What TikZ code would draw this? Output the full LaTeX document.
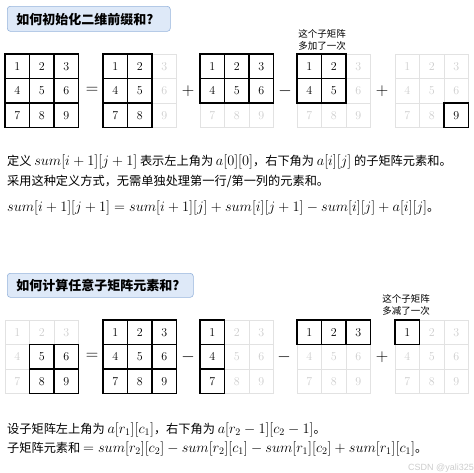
\documentclass[tikz,border=0pt]{standalone}
\usepackage{fontspec}
\usepackage{amsmath}
\newfontfamily\cjk{Noto Sans CJK SC}
\newfontfamily\wmfont{Liberation Sans}
\definecolor{tfill}{RGB}{222,233,248}
\definecolor{tdraw}{RGB}{150,180,220}
\definecolor{fline}{RGB}{226,226,226}
\definecolor{ftext}{RGB}{205,205,205}
\newcommand\mth[1]{{\fontsize{14.4}{17}\selectfont$#1$}}
\newcommand\mths[1]{{\fontsize{13.8}{16}\selectfont$#1$}}
\tikzset{
  fcell/.style={draw=fline, text=ftext, minimum width=24.5pt, minimum height=24.5pt, inner sep=0pt, font=\fontsize{12}{14}\selectfont, line width=0.6pt},
  bcell/.style={draw=black, fill=white, text=black, minimum width=24.5pt, minimum height=24.5pt, inner sep=0pt, font=\fontsize{12}{14}\selectfont, line width=1.3pt},
  op/.style={font=\fontsize{17}{20}\selectfont, inner sep=0pt},
  titlebox/.style={draw=tdraw, fill=tfill, rounded corners=3pt, line width=0.6pt, anchor=north west, inner xsep=9pt, text depth=0pt, font=\cjk\bfseries\fontsize{13}{15}\selectfont},
  txt/.style={anchor=base west, inner sep=0pt, font=\cjk\fontsize{12.2}{14}\selectfont},
  note/.style={font=\cjk\fontsize{9.5}{11.5}\selectfont, align=center, inner sep=0pt},
}
% #1 x, #2 y, #3 bold list, #4 name
\newcommand\mgrid[4]{%
  \foreach \n in {1,...,9} {%
    \pgfmathtruncatemacro\rr{(\n-1)/3}\pgfmathtruncatemacro\cc{mod(\n-1,3)}%
    \node[fcell] (#4f\n) at (#1+12.25+24.5*\cc, #2+12.25+24.5*\rr) {\n};}
  \foreach \n in {#3} {%
    \pgfmathtruncatemacro\rr{(\n-1)/3}\pgfmathtruncatemacro\cc{mod(\n-1,3)}%
    \node[bcell] (#4b\n) at (#1+12.25+24.5*\cc, #2+12.25+24.5*\rr) {\n};}
}
\begin{document}
\begin{tikzpicture}[x=1pt,y=-1pt]
\useasboundingbox (0,0) rectangle (474,472);
% ---- part 1
\node[titlebox, minimum width=163pt, minimum height=25pt, text width=145pt] (t1) at (7,6) {如何初始化二维前缀和?};
\mgrid{5}{54}{1,2,3,4,5,6,7,8,9}{a}
\mgrid{103}{54}{1,2,4,5,7,8}{b}
\mgrid{200}{54}{1,2,3,4,5,6}{c}
\mgrid{297}{54}{1,2,4,5}{d}
\mgrid{395}{54}{9}{e}
\node[op] (o1) at (92,90.75) {$=$};
\node[op] (o2) at (188,90.75) {$+$};
\node[op] (o3) at (285,90.75) {$-$};
\node[op] (o4) at (382,90.75) {$+$};
\node[note] (n1) at (322,40) {这个子矩阵\\多加了一次};
\node[txt] (l1) at (7,165) {定义 \mth{sum[i+1][j+1]} 表示左上角为 \mth{a[0][0]}，右下角为 \mth{a[i][j]} 的子矩阵元素和。};
\node[txt] (l2) at (7,185) {采用这种定义方式，无需单独处理第一行/第一列的元素和。};
\node[txt] (l3) at (7,211) {\mth{sum[i+1][j+1]=sum[i+1][j]+sum[i][j+1]-sum[i][j]+a[i][j]}。};
% ---- part 2
\node[titlebox, minimum width=186pt, minimum height=24pt, text width=168pt] (t2) at (7,273) {如何计算任意子矩阵元素和?};
\mgrid{5}{320}{5,6,8,9}{p}
\mgrid{103}{320}{1,2,3,4,5,6,7,8,9}{q}
\mgrid{200}{320}{1,4,7}{r}
\mgrid{297}{320}{1,2,3}{s}
\mgrid{395}{320}{1}{u}
\node[op] (m1) at (92,356.75) {$=$};
\node[op] (m2) at (188,356.75) {$-$};
\node[op] (m3) at (284,356.75) {$-$};
\node[op] (m4) at (382,356.75) {$+$};
\node[note] (n2) at (406,305) {这个子矩阵\\多减了一次};
\node[txt] (k1) at (7,433) {设子矩阵左上角为 \mth{a[r_1][c_1]}，右下角为 \mth{a[r_2-1][c_2-1]}。};
\node[txt] (k2) at (7,452) {子矩阵元素和 \mths{=sum[r_2][c_2]-sum[r_2][c_1]-sum[r_1][c_2]+sum[r_1][c_1]}。};
\node[anchor=base east, inner sep=0pt, text=black!20, font=\wmfont\fontsize{9}{10}\selectfont] (wm) at (474,470) {CSDN @yali325};
\end{tikzpicture}
\end{document}
